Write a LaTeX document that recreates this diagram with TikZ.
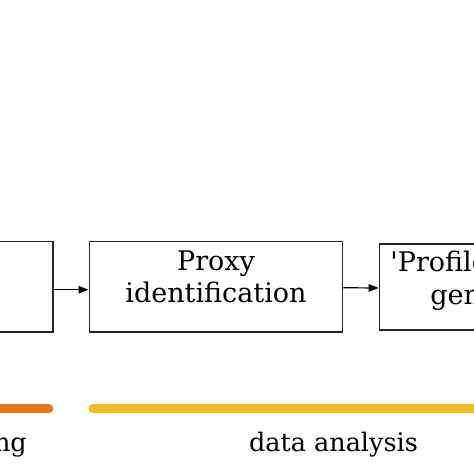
\documentclass[tikz,border=0pt]{standalone}
\usepackage{fontspec}
\setmainfont{DejaVu Serif}[Ligatures=TeXOff]
\usetikzlibrary{arrows.meta}
\definecolor{boxline}{HTML}{262626}
\definecolor{barorange}{HTML}{EB7413}
\definecolor{baryellow}{HTML}{F2BD24}
\newcommand{\lowpad}[1]{\rule[-#1]{0pt}{#1}}
\begin{document}
\begin{tikzpicture}[x=1pt,y=1pt,
  stepbox/.style={draw=boxline, line width=1.5pt, inner sep=0pt, font=\fontsize{27}{32}\selectfont},
  flow/.style={draw=black, line width=1.2pt, -{Triangle[length=10pt,width=7.5pt]}},
  phasebar/.style={line width=9pt, line cap=round},
  phaselabel/.style={inner sep=0pt, font=\fontsize{25.5}{30}\selectfont}]
\useasboundingbox (0,0) rectangle (474,474);
\begin{scope}
\clip (0,0) rectangle (474,474);
\node[stepbox, minimum width=150pt, minimum height=90.5pt] (lb) at (-22,187.25) {};
\node[stepbox, minimum width=253.4pt, minimum height=90.5pt, align=center] (proxy) at (216,187.25) {Proxy\\identification\lowpad{21pt}};
\node[stepbox, minimum width=260pt, minimum height=86pt, align=left, anchor=west, text width=250pt, font=\fontsize{27}{33}\selectfont] (prof) at (378.7,187) {\hspace*{6pt}'Profile-based\\\hspace*{46pt}generation'\lowpad{18pt}};
\draw[flow] ([yshift=-3pt]lb.east) -- ([yshift=-3pt]proxy.west);
\draw[flow] ([yshift=-1pt]proxy.east) -- ([yshift=-1pt]prof.west);
\coordinate (o1) at (-30,65);
\coordinate (o2) at (48.8,65);
\coordinate (y1) at (92.8,65);
\coordinate (y2) at (520,65);
\draw[phasebar, barorange] (o1) -- (o2);
\draw[phasebar, baryellow] (y1) -- (y2);
\node[phaselabel, anchor=base east] (lbl1) at (27,23) {data processing};
\node[phaselabel, anchor=base] (lbl2) at (333.5,22) {data analysis};
\end{scope}
\end{tikzpicture}
\end{document}
